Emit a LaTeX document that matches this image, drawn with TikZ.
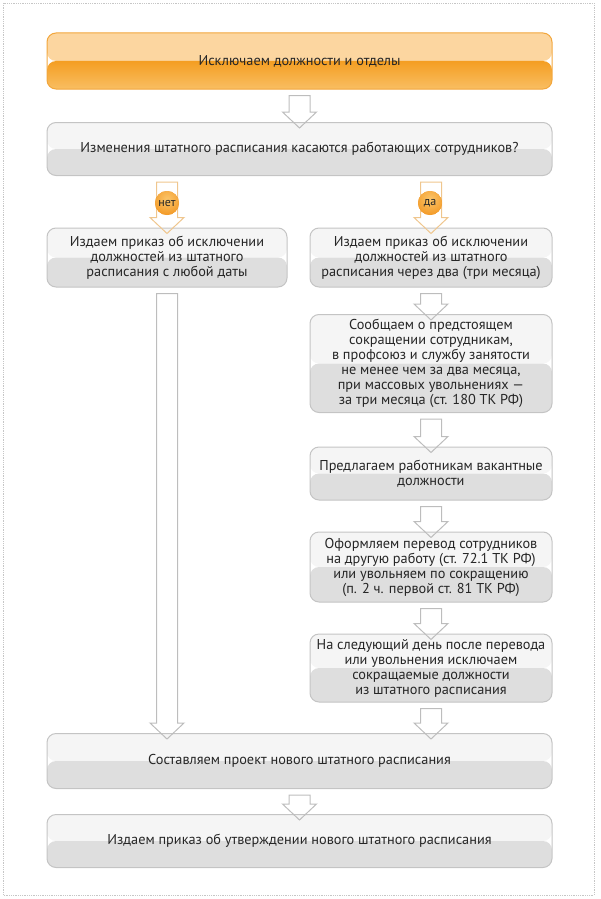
\documentclass[tikz,border=0pt]{standalone}
\usepackage{fontspec}
\setmainfont{PT Sans}
\usetikzlibrary{calc}
\definecolor{boxborder}{HTML}{C4C4C4}
\definecolor{boxtop}{HTML}{F5F5F5}
\definecolor{boxbot}{HTML}{DEDEDE}
\definecolor{txt}{HTML}{262626}
\definecolor{orborder}{HTML}{F2A63C}
\definecolor{ortop}{HTML}{FCD6A0}
\definecolor{ormid}{HTML}{F49E22}
\definecolor{orbot}{HTML}{F9BE62}
\definecolor{arrline}{HTML}{BDBDBD}
\definecolor{brline}{HTML}{EFC68E}
\definecolor{ballin}{HTML}{FBC56A}
\definecolor{ballout}{HTML}{F08A0E}
\tikzset{
  box/.style={draw=boxborder, line width=1pt, rounded corners=9pt, align=center,
    font=\fontsize{14.3}{15}\selectfont, text=txt, inner sep=0pt,
    path picture={
      \fill[boxtop] (path picture bounding box.north west) rectangle (path picture bounding box.east);
      \fill[boxbot] (path picture bounding box.west) rectangle (path picture bounding box.south east);}},
  obox/.style={draw=orborder, line width=1pt, rounded corners=9pt, align=center,
    font=\fontsize{14.3}{15}\selectfont, text=txt, inner sep=0pt,
    path picture={
      \fill[ortop] (path picture bounding box.north west) rectangle (path picture bounding box.east);
      \shade[top color=ormid, bottom color=orbot] (path picture bounding box.west) rectangle (path picture bounding box.south east);}},
  arr/.style={draw=arrline, line width=1pt, line join=miter},
  brarr/.style={draw=brline, line width=1pt, line join=miter},
  ball/.style={circle, minimum size=24pt, inner sep=0pt, text=txt, fill=ballout,
    path picture={
      \shade[inner color=ballin, outer color=ballout]
      ([yshift=4pt]path picture bounding box.center) circle (22pt);},
    font=\fontsize{12}{12}\selectfont},
  frame/.style={draw=gray!45, line width=0.8pt, densely dotted}
}
\newcommand\blockarr[3][arr]{%
  \draw[#1] let \p1=(#2), \p2=(#3) in
    (\x2-10.5pt,\y1-6pt) -- (\x2+10.5pt,\y1-6pt) -- (\x2+10.5pt,\y2-6pt+16pt)
    -- (\x2+17pt,\y2-6pt+16pt) -- (\x2,\y2-6pt) -- (\x2-17pt,\y2-6pt+16pt)
    -- (\x2-10.5pt,\y2-6pt+16pt) -- cycle;}
\begin{document}
\begin{tikzpicture}[x=1pt,y=-1pt]
\useasboundingbox (0,0) rectangle (600,899);
\draw[frame] (3,3) rectangle (594,895);
% boxes
\node[obox, minimum width=505, minimum height=56] (top) at (299.5,61) {Исключаем должности и отделы};
\node[box, minimum width=505, minimum height=53] (q) at (299.5,149) {Изменения штатного расписания касаются работающих сотрудников?};
\node[box, minimum width=240, minimum height=59] (l1) at (167,257.5) {Издаем приказ об исключении\\должностей из штатного\\расписания с любой даты};
\node[box, minimum width=242, minimum height=59] (r1) at (431,257.5) {Издаем приказ об исключении\\должностей из штатного\\расписания через два (три месяца)};
\node[box, minimum width=242, minimum height=98] (r2) at (431,363.5) {Сообщаем о предстоящем\\сокращении сотрудникам,\\в профсоюз и службу занятости\\не менее чем за два месяца,\\при массовых увольнениях —\\за три месяца (ст. 180 ТК РФ)};
\node[box, minimum width=242, minimum height=53] (r3) at (431,473.5) {Предлагаем работникам вакантные\\должности};
\node[box, minimum width=242, minimum height=70] (r4) at (431,567) {Оформляем перевод сотрудников\\на другую работу (ст. 72.1 ТК РФ)\\или увольняем по сокращению\\(п. 2 ч. первой ст. 81 ТК РФ)};
\node[box, minimum width=242, minimum height=68] (r5) at (431,668) {На следующий день после перевода\\или увольнения исключаем\\сокращаемые должности\\из штатного расписания};
\node[box, minimum width=505, minimum height=55] (b1) at (299.5,761) {Составляем проект нового штатного расписания};
\node[box, minimum width=505, minimum height=53] (b2) at (299.5,841) {Издаем приказ об утверждении нового штатного расписания};
% connectors
\blockarr{top.south}{q.north}
\blockarr[brarr]{l1.north |- q.south}{l1.north}
\blockarr[brarr]{r1.north |- q.south}{r1.north}
\blockarr{r1.south}{r2.north}
\blockarr{r2.south}{r3.north}
\blockarr{r3.south}{r4.north}
\blockarr{r4.south}{r5.north}
\blockarr{r5.south}{r5.south |- b1.north}
\blockarr{l1.south}{l1.south |- b1.north}
\blockarr{b1.south}{b2.north}
\node[ball] (no) at (167,203) {нет};
\node[ball] (yes) at (430,203) {да};
\end{tikzpicture}
\end{document}
